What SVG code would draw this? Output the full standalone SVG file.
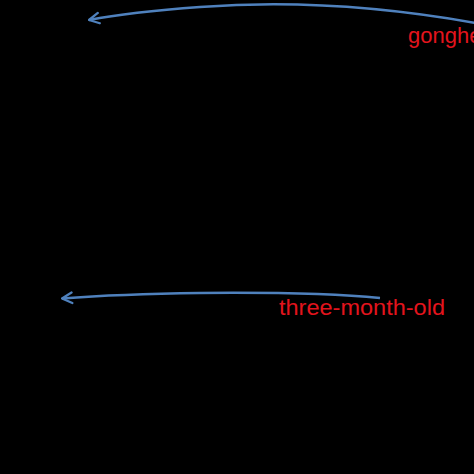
<svg xmlns="http://www.w3.org/2000/svg" width="474" height="474" viewBox="0 0 474 474">
<style>
.lbl{fill:#e3141d;font-family:"Liberation Sans","Open Sans",sans-serif;font-size:22px}
.arr{fill:none;stroke:#4f81bd;stroke-width:2.5}
</style>
<defs>
<marker id="ah" viewBox="0 0 10 10" refX="9" refY="5" markerWidth="5" markerHeight="5.5" orient="auto" markerUnits="strokeWidth">
<path d="M1,0.8 L9,5 L1,9.2" fill="none" stroke="#4f81bd" stroke-width="1.8" stroke-linecap="round" stroke-linejoin="round"/>
</marker>
</defs>
<rect width="474" height="474" fill="#000"/>
<g id="connectors">
<path class="arr" d="M476,23 Q330,-3 200,7 Q130,12 89,20" marker-end="url(#ah)"/>
<path class="arr" d="M380,298 Q320,292 200,293 Q120,294 62,298.5" marker-end="url(#ah)"/>
</g>
<g id="gonghe"><text class="lbl" x="408" y="43">gonghe</text></g>
<g id="three-month-old"><text class="lbl" x="279" y="315" textLength="166" lengthAdjust="spacingAndGlyphs">three-month-old</text></g>
</svg>
